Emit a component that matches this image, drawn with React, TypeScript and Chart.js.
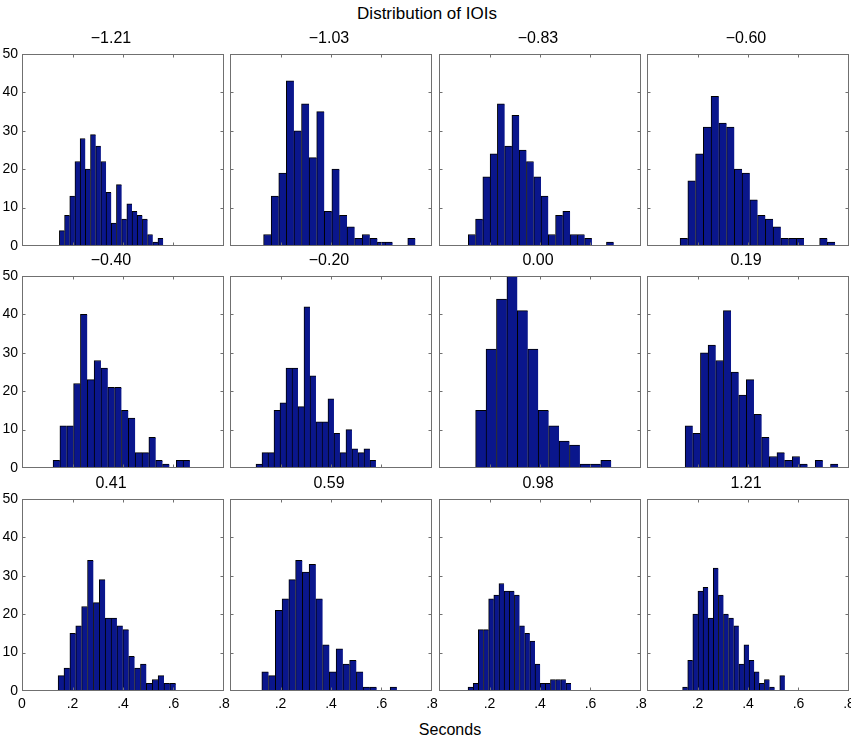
import React, { useEffect, useRef } from 'react';
import { Chart, registerables } from 'chart.js';

Chart.register(...registerables);

// panel titles (condition values)
const panelTitles = ['−1.21', '−1.03', '−0.83', '−0.60', '−0.40', '−0.20', '0.00', '0.19', '0.41', '0.59', '0.98', '1.21'];

// left and right edge of the histogram bins, per panel (seconds)
const binRanges: [number, number][] = [
  [0.148, 0.559], [0.133, 0.734], [0.116, 0.692], [0.131, 0.745],
  [0.123, 0.665], [0.103, 0.578], [0.145, 0.682], [0.151, 0.757],
  [0.143, 0.609], [0.126, 0.661], [0.115, 0.523], [0.141, 0.546],
];

// bin counts
const countsA = [4, 8, 13, 22, 28, 20, 29, 26, 22, 14, 6, 16, 7, 11, 9, 8, 7, 3, 1, 2];
const countsB = [3, 13, 19, 43, 30, 37, 23, 35, 9, 20, 8, 5, 2, 3, 2, 1, 1, 0, 0, 2];
const countsC = [3, 7, 18, 24, 37, 26, 34, 25, 22, 18, 13, 3, 8, 9, 3, 3, 2, 0, 0, 1];
const countsD = [2, 17, 24, 31, 39, 32, 31, 20, 19, 12, 8, 7, 5, 2, 2, 2, 0, 0, 2, 1];
const countsE = [2, 11, 11, 22, 40, 23, 28, 26, 21, 21, 15, 13, 4, 4, 8, 2, 1, 0, 2, 2];
const countsF = [1, 4, 4, 15, 17, 26, 26, 16, 42, 24, 12, 12, 18, 9, 4, 10, 5, 4, 5, 2];
const countsG = [15, 31, 44, 50, 41, 31, 15, 11, 7, 6, 1, 1, 2];
const countsH = [11, 9, 30, 32, 28, 41, 25, 19, 23, 14, 8, 3, 4, 2, 3, 1, 0, 2, 0, 1];
const countsI = [4, 6, 15, 17, 22, 34, 23, 29, 19, 19, 17, 16, 9, 6, 7, 2, 3, 4, 2, 2];
const countsJ = [5, 4, 21, 24, 29, 34, 31, 33, 24, 12, 5, 11, 7, 8, 5, 1, 1, 0, 0, 1];
const countsK = [1, 2, 16, 16, 24, 25, 28, 26, 26, 25, 17, 15, 13, 7, 2, 2, 3, 3, 3, 2];
const countsL = [1, 8, 20, 26, 27, 19, 32, 25, 20, 19, 17, 7, 12, 8, 5, 2, 3, 1, 0, 4];
const panelCounts = [countsA, countsB, countsC, countsD, countsE, countsF, countsG, countsH, countsI, countsJ, countsK, countsL];

const xTickValues = [0, 0.2, 0.4, 0.6, 0.8];
const xTickLabels = ['0', '.2', '.4', '.6', '.8'];
const yTickValues = [0, 10, 20, 30, 40, 50];
const yTickLabels = ['0', '10', '20', '30', '40', '50'];

// page layout
const colLeft = [22, 230, 439, 647];
const rowTop = [54, 276, 499];
const plotW = 202;
const plotH = 192;
const TOP = 30;
const FONT = '"Liberation Sans", Arial, Helvetica, sans-serif';

// MATLAB style box with inward tick marks
const boxPlugin = {
  id: 'matlabBox',
  afterDatasetsDraw(chart: Chart) {
    const { ctx, chartArea: a, scales } = chart;
    const l = Math.round(a.left) + 0.5;
    const t = Math.round(a.top) + 0.5;
    const r = Math.round(a.right) - 0.5;
    const b = Math.round(a.bottom) - 0.5;
    ctx.save();
    ctx.strokeStyle = '#707070';
    ctx.lineWidth = 1;
    ctx.strokeRect(l, t, r - l, b - t);
    ctx.beginPath();
    yTickValues.slice(1, -1).forEach((v) => {
      const y = Math.round(scales.y.getPixelForValue(v)) + 0.5;
      ctx.moveTo(l, y);
      ctx.lineTo(l + 3, y);
      ctx.moveTo(r, y);
      ctx.lineTo(r - 3, y);
    });
    xTickValues.slice(1, -1).forEach((v) => {
      const x = Math.round(scales.x.getPixelForValue(v)) + 0.5;
      ctx.moveTo(x, t);
      ctx.lineTo(x, t + 3);
      ctx.moveTo(x, b);
      ctx.lineTo(x, b - 3);
    });
    ctx.stroke();
    ctx.restore();
  },
};

const Panel: React.FC<{ index: number }> = ({ index }) => {
  const canvasRef = useRef<HTMLCanvasElement>(null);
  const row = Math.floor(index / 4);
  const col = index % 4;
  const L = col === 0 ? 24 : 4;
  const R = 12;
  const B = row === 2 ? 26 : 4;

  useEffect(() => {
    if (!canvasRef.current) return;
    const ctx = canvasRef.current.getContext('2d');
    if (!ctx) return;

    const counts = panelCounts[index];
    const [lo, hi] = binRanges[index];
    const w = (hi - lo) / counts.length;
    const data = counts.map((c, i) => ({ x: lo + w * (i + 0.5), y: c }));

    const chart = new Chart(ctx, {
      type: 'bar',
      data: {
        datasets: [
          {
            data,
            backgroundColor: '#0a168c',
            borderColor: '#000',
            borderWidth: { top: 1, left: 1, right: 0, bottom: 0 },
            borderSkipped: false,
            barPercentage: 1,
            categoryPercentage: 1,
          },
        ],
      },
      options: {
        animation: false,
        responsive: true,
        maintainAspectRatio: false,
        layout: { padding: { left: 0, right: R, top: 0, bottom: 0 } },
        scales: {
          x: {
            type: 'linear',
            min: 0,
            max: 0.8,
            offset: false,
            grid: { display: false, drawTicks: false, offset: false },
            border: { display: false },
            afterBuildTicks: (scale: any) => {
              scale.ticks = xTickValues.map((v) => ({ value: v }));
            },
            afterFit: (scale: any) => {
              scale.height = B;
              scale.paddingLeft = 0;
              scale.paddingRight = 0;
              scale.paddingTop = 0;
              scale.paddingBottom = 0;
            },
            ticks: {
              display: row === 2,
              autoSkip: false,
              maxRotation: 0,
              padding: 5,
              color: '#000',
              font: { family: FONT, size: 14 },
              callback: (_v: any, i: number) => (i === 0 && col !== 0 ? '' : xTickLabels[i]),
            },
          },
          y: {
            min: 0,
            max: 50,
            grid: { display: false, drawTicks: false },
            border: { display: false },
            afterBuildTicks: (scale: any) => {
              scale.ticks = yTickValues.map((v) => ({ value: v }));
            },
            afterFit: (scale: any) => {
              scale.width = L;
              scale.paddingLeft = 0;
              scale.paddingRight = 0;
              scale.paddingTop = 0;
              scale.paddingBottom = 0;
            },
            ticks: {
              display: col === 0,
              padding: 4,
              color: '#000',
              font: { family: FONT, size: 14 },
              callback: (_v: any, i: number) => yTickLabels[i],
            },
          },
        },
        plugins: {
          legend: { display: false },
          tooltip: { enabled: false },
          title: {
            display: true,
            text: panelTitles[index],
            color: '#000',
            font: { family: FONT, size: 16, weight: 'normal' },
            padding: { top: 5.4, bottom: 5.4 },
          },
        },
      },
      plugins: [boxPlugin],
    });

    return () => {
      chart.destroy();
    };
  }, [index]);

  return (
    <div
      style={{
        position: 'absolute',
        left: colLeft[col] - L,
        top: rowTop[row] - TOP,
        width: plotW + L + R,
        height: plotH + TOP + B,
      }}
    >
      <canvas ref={canvasRef}></canvas>
    </div>
  );
};

export default function App() {
  return (
    <div
      style={{
        position: 'absolute',
        left: 0,
        top: 0,
        width: 851,
        height: 742,
        background: '#fff',
        fontFamily: FONT,
        overflow: 'hidden',
      }}
    >
      <div
        style={{
          position: 'absolute',
          left: 0,
          top: 3,
          width: 854,
          textAlign: 'center',
          fontSize: 17,
          lineHeight: '22px',
          color: '#000',
        }}
      >
        Distribution of IOIs
      </div>
      {panelTitles.map((_t, i) => (
        <Panel key={i} index={i} />
      ))}
      <div
        style={{
          position: 'absolute',
          left: 350,
          top: 720,
          width: 200,
          textAlign: 'center',
          fontSize: 16,
          lineHeight: '19px',
          color: '#000',
        }}
      >
        Seconds
      </div>
    </div>
  );
}
